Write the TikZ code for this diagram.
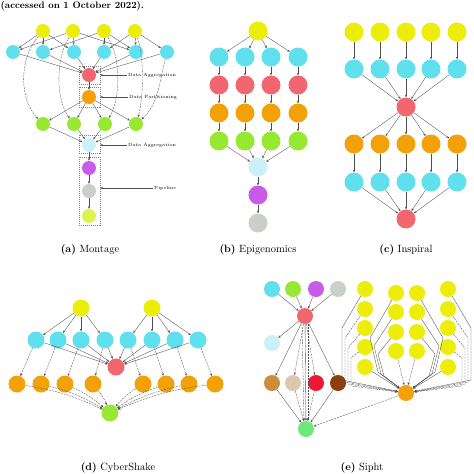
\documentclass[tikz,border=0pt]{standalone}
\usetikzlibrary{arrows.meta}
\definecolor{cY}{RGB}{236,238,10}
\definecolor{cC}{RGB}{95,224,236}
\definecolor{cR}{RGB}{242,102,112}
\definecolor{cO}{RGB}{242,162,8}
\definecolor{cG}{RGB}{150,232,50}
\definecolor{cLC}{RGB}{205,240,248}
\definecolor{cP}{RGB}{200,92,232}
\definecolor{cGr}{RGB}{200,208,200}
\definecolor{cYG}{RGB}{222,242,80}
\definecolor{cMint}{RGB}{110,232,120}
\definecolor{cTan}{RGB}{205,140,55}
\definecolor{cBeige}{RGB}{218,200,175}
\definecolor{cRed}{RGB}{236,24,52}
\definecolor{cBrown}{RGB}{140,62,12}
\definecolor{edgec}{RGB}{80,80,80}
\tikzset{
 nd/.style={circle,inner sep=0pt,minimum size=#1,draw=none},
 ed/.style={draw=edgec,line width=0.35pt,-{Stealth[length=2.6pt,width=2.2pt]}},
 dd/.style={ed,dash pattern=on 2pt off 1pt},
 bx/.style={draw=gray,line width=0.4pt,dash pattern=on 1pt off 1pt,inner sep=0pt},
 lbl/.style={font=\fontsize{4.5}{5}\selectfont,anchor=west,inner sep=0pt},
 captxt/.style={font=\fontsize{10.5}{12}\selectfont,inner sep=0pt},
}
\begin{document}
\begin{tikzpicture}[x=1pt,y=-1pt]
\useasboundingbox (0,0) rectangle (474,474);
\fill[white] (0,0) rectangle (474,474);
\node[anchor=base west,inner sep=0pt,font=\bfseries\fontsize{9.5}{11}\selectfont] (acc) at (0.5,8) {(accessed on 1 October 2022).};

%% ---------- (a) Montage ----------
\begin{scope}[every node/.append style={nd=14pt}]
\node[fill=cY] (mY1) at (43,31) {};
\node[fill=cY] (mY2) at (73,31) {};
\node[fill=cY] (mY3) at (104,31) {};
\node[fill=cY] (mY4) at (135,31) {};
\node[fill=cC] (mC1) at (13,52) {};
\node[fill=cC] (mC2) at (43,52) {};
\node[fill=cC] (mC3) at (74,52) {};
\node[fill=cC] (mC4) at (104,52) {};
\node[fill=cC] (mC5) at (136,52) {};
\node[fill=cC] (mC6) at (167,52) {};
\node[fill=cR] (mR) at (89,75) {};
\node[fill=cO] (mO) at (89,97) {};
\node[fill=cG] (mG1) at (43,124) {};
\node[fill=cG] (mG2) at (74,124) {};
\node[fill=cG] (mG3) at (105,124) {};
\node[fill=cG] (mG4) at (136,124) {};
\node[fill=cLC] (mLC) at (89,145) {};
\node[fill=cP] (mP) at (89,168) {};
\node[fill=cGr] (mGr) at (89,191) {};
\node[fill=cYG] (mYG) at (89,216) {};
\end{scope}
\node[bx,minimum width=21pt,minimum height=18pt] (bx1) at (89.5,75) {};
\node[bx,minimum width=21pt,minimum height=20pt] (bx2) at (89.5,97) {};
\node[bx,minimum width=21pt,minimum height=18pt] (bx3) at (89.5,144) {};
\node[bx,minimum width=21pt,minimum height=68pt] (bx4) at (89.5,191) {};
\node[lbl] (la1) at (128,75) {Data Aggregation};
\node[lbl] (la2) at (129,97) {Data Partitioning};
\node[lbl] (la3) at (128,145) {Data Aggregation};
\node[lbl] (la4) at (154,188) {Pipeline};
\draw[ed,shorten <=1pt] (la1.west) -- (bx1.east);
\draw[ed,shorten <=1pt] (la2.west) -- (bx2.east);
\draw[ed,shorten <=1pt] (la3.west) -- (bx3.east |- la3.west);
\draw[ed,shorten <=1pt] (la4.west) -- (bx4.east |- la4.west);
\foreach \a/\b in {mY1/mC1,mY1/mC2,mY1/mC3,mY2/mC1,mY2/mC3,mY2/mC5,mY3/mC2,mY3/mC4,mY3/mC5,mY4/mC4,mY4/mC5,mY4/mC6,
  mC1/mR,mC2/mR,mC3/mR,mC4/mR,mC5/mR,mC6/mR,mR/mO,mO/mG1,mO/mG2,mO/mG3,mO/mG4,
  mG1/mLC,mG2/mLC,mG3/mLC,mG4/mLC,mLC/mP,mP/mGr,mGr/mYG}
  \draw[ed] (\a) -- (\b);
\draw[dd] (mY1) .. controls (18,60) and (20,100) .. (mG1);
\draw[dd] (mY2) .. controls (55,60) and (56,100) .. (mG2);
\draw[dd] (mY3) .. controls (122,60) and (120,100) .. (mG3);
\draw[dd] (mY4) .. controls (145,60) and (143,100) .. (mG4);
\draw[dd] (mC6) .. controls (160,80) and (158,105) .. (mG4);

%% ---------- (b) Epigenomics ----------
\begin{scope}[every node/.append style={nd=19pt}]
\node[fill=cY] (eY) at (258,31) {};
\foreach \i/\x in {1/219,2/245,3/271,4/298}{
  \node[fill=cC] (eC\i) at (\x,57) {};
  \node[fill=cR] (eR\i) at (\x,85) {};
  \node[fill=cO] (eO\i) at (\x,113) {};
  \node[fill=cG] (eG\i) at (\x,141) {};
}
\node[fill=cLC] (eLC) at (258,167) {};
\node[fill=cP] (eP) at (258,195) {};
\node[fill=cGr] (eGr) at (258,223) {};
\end{scope}
\foreach \i in {1,2,3,4}{
  \draw[ed] (eY) -- (eC\i);
  \draw[ed] (eC\i) -- (eR\i);
  \draw[ed] (eR\i) -- (eO\i);
  \draw[ed] (eO\i) -- (eG\i);
  \draw[ed] (eG\i) -- (eLC);
}
\draw[ed] (eLC) -- (eP);
\draw[ed] (eP) -- (eGr);

%% ---------- (c) Inspiral ----------
\begin{scope}[every node/.append style={nd=19pt}]
\foreach \i/\x in {1/354,2/380,3/406,4/431,5/457}{
  \node[fill=cY] (iY\i) at (\x,32) {};
  \node[fill=cC] (iC\i) at (\x,69) {};
  \node[fill=cO] (iO\i) at (\x,144) {};
  \node[fill=cC] (iD\i) at (\x,182) {};
}
\node[fill=cR] (iR1) at (406,107) {};
\node[fill=cR] (iR2) at (406,219) {};
\end{scope}
\foreach \i in {1,...,5}{
  \draw[ed] (iY\i) -- (iC\i);
  \draw[ed] (iC\i) -- (iR1);
  \draw[ed] (iR1) -- (iO\i);
  \draw[ed] (iO\i) -- (iD\i);
  \draw[ed] (iD\i) -- (iR2);
}

%% ---------- (d) CyberShake ----------
\begin{scope}[every node/.append style={nd=17pt}]
\node[fill=cY] (cY1) at (81,308) {};
\node[fill=cY] (cY2) at (152,308) {};
\foreach \i/\x in {1/36,2/58,3/81,4/105,5/128,6/152,7/175,8/198}
  \node[fill=cC] (cC\i) at (\x,340) {};
\foreach \i/\x in {1/17,2/41,3/65,4/93,5/143,6/166,7/189,8/215}
  \node[fill=cO] (cO\i) at (\x,384) {};
\node[fill=cR] (cR) at (116,367) {};
\node[fill=cG] (cG) at (110,413) {};
\end{scope}
\foreach \i in {1,...,4} \draw[ed] (cY1) -- (cC\i);
\foreach \i in {5,...,8} \draw[ed] (cY2) -- (cC\i);
\foreach \i in {1,...,8}{
  \draw[ed] (cC\i) -- (cR);
  \draw[dd] (cC\i) -- (cO\i);
}
\foreach \i in {1,...,4} \draw[dd] (cO\i) to[bend left=8] (cG);
\foreach \i in {5,...,8} \draw[dd] (cO\i) to[bend right=8] (cG);

%% ---------- (e) Sipht ----------
\begin{scope}[every node/.append style={nd=16pt}]
\node[fill=cC] (sT1) at (272,289) {};
\node[fill=cG] (sT2) at (293,289) {};
\node[fill=cP] (sT3) at (316,289) {};
\node[fill=cGr] (sT4) at (338,289) {};
\node[fill=cR] (sR) at (305,316) {};
\node[fill=cLC] (sLC) at (272,343) {};
\node[fill=cTan] (sB1) at (272,383) {};
\node[fill=cBeige] (sB2) at (293,383) {};
\node[fill=cRed] (sB3) at (316,383) {};
\node[fill=cBrown] (sB4) at (338,383) {};
\node[fill=cMint] (sG) at (306,429) {};
\node[fill=cO] (sO) at (406,393) {};
\foreach \k/\y in {1/289,2/309,3/328,4/347,5/367}{
  \node[fill=cY] (sa\k) at (365,\y) {};
  \node[fill=cY] (sd\k) at (448,\y) {};
}
\foreach \k/\y in {1/293,2/312,3/332,4/351}{
  \node[fill=cY] (sb\k) at (396,\y) {};
  \node[fill=cY] (sc\k) at (417,\y) {};
}
\end{scope}
\foreach \i in {1,...,4} \draw[ed] (sT\i) -- (sR);
\draw[ed] (sR) -- (sLC);
\draw[ed] (sR) -- (sB1);
\draw[dd] (sR) -- (sB2);
\draw[dd] (sR) -- (sB3);
\draw[ed] (sR) -- (sB4);
\draw[ed] (sR) -- (sG);
\draw[dd] ([xshift=-3pt]sR.south) -- ([xshift=-2pt]sG.north);
\draw[dd] ([xshift=3pt]sR.south) -- ([xshift=2pt]sG.north);
\draw[ed] (sB1) -- (sG);
\draw[dd] (sB2) -- (sG);
\draw[dd] (sB3) -- (sG);
\draw[ed] (sB4) -- (sG);
\draw[dd] (sO) -- (sG);
% left column, routed round the left
\draw[ed] (sa1) -- (342,328) -- (342,380) -- (sO);
\draw[dd] (sa2) -- (345,338) -- (345,382) -- (sO);
\draw[dd] (sa3) -- (348,348) -- (348,384) -- (sO);
\draw[dd] (sa4) -- (351,358) -- (351,386) -- (sO);
\draw[ed] (sa5) -- (sO);
% right column, routed round the right
\draw[ed] (sd1) -- (471,328) -- (471,380) -- (sO);
\draw[dd] (sd2) -- (468,338) -- (468,382) -- (sO);
\draw[dd] (sd3) -- (465,348) -- (465,384) -- (sO);
\draw[dd] (sd4) -- (462,358) -- (462,386) -- (sO);
\draw[ed] (sd5) -- (sO);
% inner columns
\draw[ed] (sb1) -- (370,338) -- (378,372) -- (sO);
\draw[ed] (sb2) -- (374,346) -- (381,374) -- (sO);
\draw[ed] (sb3) -- (378,354) -- (384,376) -- (sO);
\draw[dd] (sb4) -- (sO);
\draw[ed] (sc1) -- (443,338) -- (435,372) -- (sO);
\draw[ed] (sc2) -- (439,346) -- (432,374) -- (sO);
\draw[ed] (sc3) -- (435,354) -- (429,376) -- (sO);
\draw[dd] (sc4) -- (sO);

%% ---------- captions ----------
\node[captxt] (capa) at (90,250) {\textbf{(a)} Montage};
\node[captxt] (capb) at (258,250) {\textbf{(b)} Epigenomics};
\node[captxt] (capc) at (406,250) {\textbf{(c)} Inspiral};
\node[captxt] (capd) at (118,468) {\textbf{(d)} CyberShake};
\node[captxt] (cape) at (362,468) {\textbf{(e)} Sipht};
\end{tikzpicture}
\end{document}
